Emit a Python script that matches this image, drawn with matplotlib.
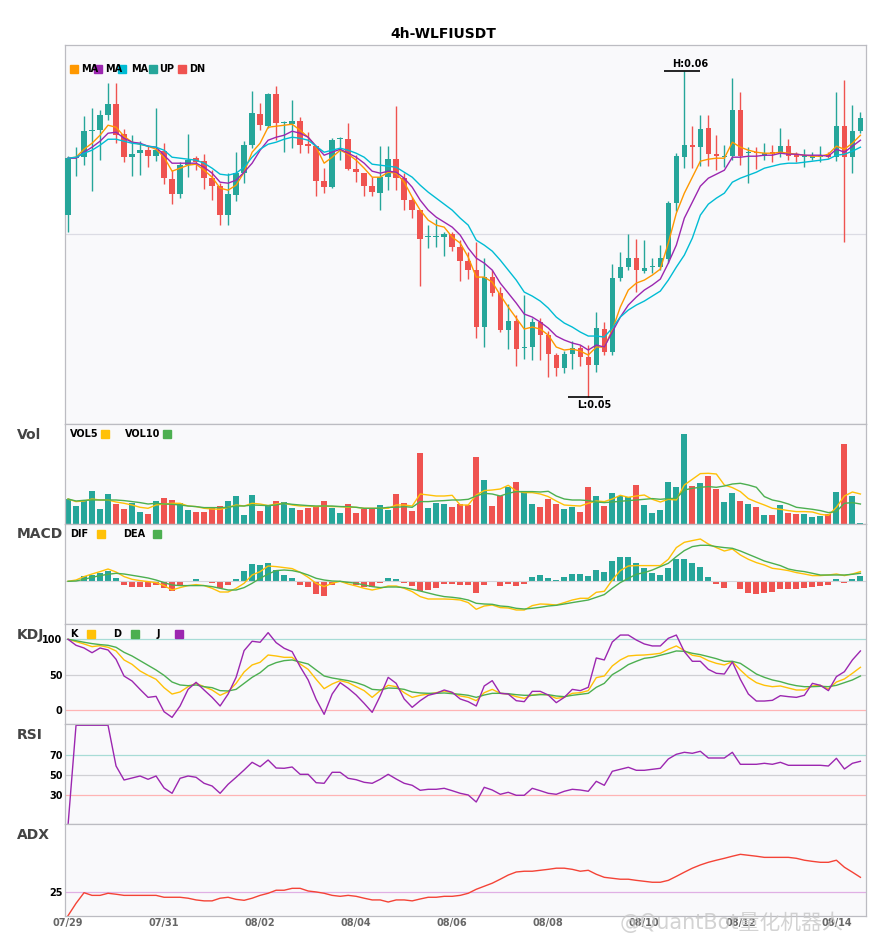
import numpy as np
import matplotlib.pyplot as plt
from matplotlib.patches import Rectangle

W, H = 885, 950

date_labels = ['07/29', '07/31', '08/02', '08/04', '08/06', '08/08', '08/10', '08/12', '08/14']

# OHLC, in 1e-5 USDT
opens = [5546, 5717, 5720, 5798, 5801, 5846, 5879, 5789, 5720, 5732,
         5741, 5723, 5738, 5654, 5609, 5696, 5717, 5708, 5657, 5633,
         5546, 5606, 5672, 5756, 5849, 5813, 5909, 5822, 5819, 5828,
         5756, 5753, 5648, 5630, 5774, 5774, 5684, 5672, 5633, 5612,
         5660, 5714, 5657, 5591, 5561, 5480, 5480, 5480, 5489, 5450,
         5408, 5381, 5210, 5360, 5312, 5201, 5228, 5147, 5150, 5225,
         5186, 5126, 5087, 5129, 5147, 5120, 5096, 5204, 5135, 5357,
         5390, 5417, 5378, 5389, 5390, 5414, 5582, 5720, 5756, 5750,
         5807, 5729, 5720, 5723, 5861, 5732, 5733, 5723, 5733, 5729,
         5753, 5729, 5722, 5719, 5722, 5729, 5720, 5813, 5720, 5798]
highs = [5723, 5750, 5843, 5867, 5861, 5942, 5942, 5804, 5786, 5768,
         5753, 5867, 5762, 5681, 5705, 5789, 5723, 5729, 5681, 5642,
         5672, 5735, 5768, 5918, 5882, 5912, 5933, 5828, 5891, 5840,
         5795, 5753, 5687, 5777, 5780, 5822, 5726, 5672, 5660, 5753,
         5753, 5873, 5672, 5600, 5561, 5516, 5534, 5495, 5495, 5471,
         5435, 5465, 5417, 5381, 5330, 5279, 5246, 5306, 5237, 5237,
         5198, 5132, 5138, 5168, 5156, 5156, 5255, 5225, 5399, 5435,
         5489, 5474, 5471, 5417, 5456, 5588, 5732, 5978, 5813, 5846,
         5846, 5786, 5756, 5957, 5915, 5750, 5750, 5762, 5756, 5807,
         5774, 5735, 5744, 5735, 5753, 5735, 5915, 5951, 5876, 5855]
lows = [5495, 5663, 5696, 5618, 5711, 5831, 5762, 5705, 5663, 5666,
        5690, 5708, 5639, 5579, 5597, 5660, 5681, 5624, 5591, 5516,
        5516, 5588, 5642, 5747, 5801, 5807, 5771, 5735, 5747, 5732,
        5732, 5603, 5612, 5627, 5711, 5681, 5645, 5603, 5603, 5561,
        5621, 5621, 5561, 5537, 5333, 5447, 5450, 5423, 5438, 5348,
        5354, 5177, 5150, 5303, 5195, 5144, 5093, 5114, 5111, 5111,
        5060, 5063, 5072, 5084, 5093, 5000, 5075, 5126, 5126, 5348,
        5381, 5315, 5372, 5372, 5381, 5402, 5558, 5687, 5687, 5693,
        5693, 5681, 5690, 5711, 5696, 5642, 5684, 5711, 5705, 5720,
        5711, 5705, 5690, 5711, 5705, 5717, 5708, 5465, 5672, 5792]
closes = [5717, 5718, 5798, 5801, 5846, 5879, 5786, 5720, 5729, 5741,
          5723, 5741, 5657, 5609, 5696, 5711, 5705, 5657, 5633, 5546,
          5609, 5672, 5756, 5852, 5816, 5909, 5822, 5823, 5828, 5756,
          5755, 5648, 5630, 5771, 5777, 5684, 5675, 5633, 5615, 5660,
          5714, 5657, 5591, 5561, 5474, 5481, 5481, 5489, 5450, 5408,
          5381, 5210, 5360, 5312, 5201, 5228, 5144, 5150, 5225, 5186,
          5129, 5087, 5129, 5147, 5120, 5096, 5207, 5135, 5357, 5390,
          5417, 5381, 5387, 5390, 5417, 5582, 5723, 5756, 5750, 5804,
          5729, 5723, 5723, 5861, 5723, 5733, 5732, 5732, 5731, 5753,
          5723, 5720, 5723, 5720, 5723, 5720, 5813, 5720, 5798, 5837]

ma5 = [5717, 5720, 5744, 5762, 5786, 5816, 5810, 5783, 5765, 5759,
       5753, 5744, 5720, 5678, 5687, 5696, 5699, 5681, 5660, 5627,
       5621, 5636, 5675, 5735, 5762, 5810, 5813, 5816, 5819, 5801,
       5780, 5750, 5702, 5720, 5741, 5729, 5711, 5687, 5660, 5660,
       5675, 5672, 5645, 5600, 5561, 5531, 5516, 5510, 5480, 5462,
       5420, 5360, 5360, 5345, 5306, 5270, 5237, 5204, 5210, 5204,
       5186, 5150, 5141, 5144, 5138, 5126, 5150, 5150, 5201, 5270,
       5321, 5342, 5351, 5366, 5384, 5462, 5552, 5612, 5660, 5708,
       5714, 5717, 5717, 5765, 5750, 5741, 5735, 5732, 5732, 5735,
       5732, 5729, 5726, 5723, 5723, 5729, 5753, 5744, 5762, 5786]
ma10 = [5717, 5717, 5735, 5750, 5768, 5792, 5795, 5777, 5765, 5762,
        5753, 5750, 5726, 5702, 5702, 5702, 5702, 5690, 5672, 5645,
        5642, 5651, 5675, 5702, 5741, 5771, 5780, 5786, 5798, 5792,
        5780, 5753, 5726, 5735, 5744, 5732, 5720, 5702, 5678, 5672,
        5678, 5675, 5657, 5630, 5591, 5561, 5540, 5525, 5510, 5486,
        5447, 5417, 5402, 5381, 5342, 5312, 5282, 5249, 5240, 5225,
        5207, 5183, 5171, 5162, 5156, 5141, 5156, 5150, 5195, 5240,
        5276, 5300, 5321, 5336, 5354, 5402, 5456, 5537, 5585, 5633,
        5657, 5669, 5681, 5720, 5720, 5723, 5723, 5726, 5726, 5732,
        5729, 5729, 5726, 5726, 5726, 5723, 5744, 5735, 5753, 5771]
ma20 = [5717, 5720, 5732, 5741, 5756, 5774, 5774, 5768, 5762, 5759,
        5753, 5750, 5741, 5720, 5717, 5714, 5711, 5702, 5687, 5669,
        5666, 5672, 5690, 5720, 5744, 5759, 5765, 5774, 5780, 5777,
        5771, 5753, 5735, 5741, 5747, 5741, 5732, 5720, 5699, 5696,
        5693, 5690, 5675, 5660, 5636, 5615, 5597, 5579, 5561, 5537,
        5516, 5471, 5456, 5438, 5411, 5381, 5351, 5315, 5303, 5288,
        5267, 5240, 5222, 5210, 5195, 5183, 5183, 5180, 5207, 5240,
        5261, 5276, 5288, 5303, 5318, 5351, 5390, 5426, 5477, 5546,
        5579, 5597, 5612, 5645, 5657, 5666, 5675, 5687, 5693, 5699,
        5702, 5702, 5705, 5708, 5711, 5714, 5726, 5729, 5738, 5750]

volume = [25.3, 18.3, 24.3, 33.3, 15.3, 30.3, 20.3, 15.3, 21.3, 12.3,
          10.3, 23.3, 26.3, 24.3, 21.3, 14.3, 12.3, 12.3, 16.3, 18.3,
          23.3, 28.3, 9.3, 29.3, 13.3, 19.3, 23.3, 22.3, 16.3, 14.3,
          16.3, 18.3, 23.3, 16.3, 11.3, 20.3, 11.3, 15.3, 15.3, 19.3,
          14.3, 30.3, 21.3, 13.3, 71.3, 16.3, 21.3, 20.3, 17.3, 20.3,
          19.3, 67.3, 44.3, 18.3, 28.3, 37.3, 42.3, 32.3, 20.3, 17.3,
          25.3, 20.3, 15.3, 17.3, 12.3, 37.3, 28.3, 18.3, 31.3, 28.3,
          27.3, 39.3, 19.3, 11.3, 14.3, 42.3, 37.3, 90.3, 38.3, 41.3,
          48.3, 35.3, 22.3, 31.3, 23.3, 20.3, 17.3, 9.3, 9.3, 19.3,
          11.3, 10.3, 10.3, 7.3, 8.3, 10.3, 32.3, 80.3, 28.3, 1.3]
vol5 = [25.3, 22.7, 23.3, 25.3, 24.3, 24.3, 22.3, 21, 19.3, 17,
        16, 19.3, 20.3, 21, 21, 18.3, 17.7, 16, 15.3, 15,
        17, 19.3, 18.3, 21, 20.3, 18.7, 20.3, 21, 19.3, 18.3,
        18.3, 17.7, 18.3, 17.7, 17.7, 17, 17, 16, 16, 16,
        16, 19.3, 19.3, 18.3, 30.3, 29.3, 28.3, 28.3, 29, 19.3,
        19.3, 29.3, 33.7, 34.3, 35.3, 39, 33.3, 31.7, 31.7, 30.3,
        27.7, 23.3, 19.3, 18.7, 18.3, 21, 23.3, 22.7, 25.3, 29,
        27, 28.3, 29.3, 25, 22.3, 25, 24.3, 39.3, 45, 50.7,
        51, 50.3, 39.3, 36.7, 32.7, 25.7, 22.3, 19.3, 16, 15,
        13.7, 12.7, 12.7, 12.3, 10, 9, 17, 28.3, 32.3, 30.3]
vol10 = [25.3, 23.3, 24, 24.3, 24.3, 24.3, 24.3, 23.7, 22.7, 21.7,
         20.3, 21, 20.3, 20, 19.3, 18.3, 17.7, 16.7, 16.7, 16.7,
         17, 18.3, 18.3, 19.3, 19, 18.7, 19.3, 21, 20, 19.3,
         18.7, 18.3, 18.3, 18.3, 17.7, 17.7, 17, 16, 16, 16,
         17, 17, 17.7, 17, 22.7, 22.7, 23.3, 23.7, 24.3, 24.3,
         25, 28.3, 31, 30.3, 28.3, 31, 32.7, 32.7, 32.7, 32.3,
         33, 28.3, 25.3, 24.3, 24.3, 23.7, 22.3, 21.7, 22.3, 23,
         23.7, 24.3, 25, 25.7, 25, 25.7, 26, 34.3, 36, 37,
         37.7, 37, 38.3, 40.3, 41, 39.3, 37, 27.7, 24.3, 22.7,
         20.3, 17, 16, 15, 13.7, 11.7, 12.7, 21, 21.7, 20.3]

# MACD, in 1e-5 units
dif = [0, 1.3, 4.7, 7.3, 9.7, 12.3, 9.3, 4.7, 2, 0.7,
       -0.3, -1.3, -4.3, -8.7, -6.3, -4.3, -3.3, -4.3, -7, -10.7,
       -10.7, -7, -2, 6.3, 9.7, 15.3, 14.7, 13.7, 12.7, 9,
       4, -2, -5.3, -2, 0, -2.7, -4.7, -7, -8.7, -7,
       -4.7, -4.7, -7, -10.3, -15.3, -17.7, -17.7, -17.7, -18, -18.7,
       -21.3, -28, -24.7, -23.7, -26.3, -26.7, -28.7, -28.7, -24.3, -22.7,
       -23, -23.7, -21.3, -18.7, -17, -17, -11, -10, 1.3, 10.7,
       15.3, 15.7, 15.7, 15.7, 15.7, 22, 33.7, 39, 40.7, 42.3,
       37.3, 33.7, 30.3, 32.3, 26.3, 22, 18.7, 16.3, 13, 12,
       10.7, 8.7, 7.3, 5.7, 5.7, 6.3, 7.3, 5.7, 7.3, 9.7]
dea = [0, 0.3, 2, 4, 5.7, 7, 8, 7.3, 6, 4.7,
       3.3, 1.3, -1.3, -3.7, -4.3, -4.3, -4.3, -4.3, -5.3, -7,
       -8.7, -8.7, -6.3, -2, 3, 7.3, 10.7, 11.3, 10.7, 9,
       6.3, 3, 1.3, 0.3, 0, -1, -2, -3.7, -5.3, -6.3,
       -5.7, -5.7, -6.3, -8, -9.7, -11.7, -13.7, -15.3, -16, -17,
       -18.7, -22, -22.7, -23, -24.7, -25.3, -27, -27.7, -27, -26,
       -24.7, -24, -22.7, -21.3, -20, -18.7, -16, -13.3, -7, -1.3,
       3, 7, 8.7, 11.3, 14.7, 18, 24.7, 30.7, 34.7, 36,
       36, 34.7, 33.7, 33, 30.3, 27, 23.7, 20.3, 18, 15.7,
       12.3, 10.7, 9.7, 8, 6.3, 6.3, 6.3, 6.3, 7, 8]
hist = [0, 0, 5.3, 6.3, 8.3, 10.3, 3.3, -3.3, -5.3, -5.3,
        -5.3, -3.3, -6.3, -9.3, -3.3, 0, 2.3, 0, -1.3, -6.3,
        -3.3, 2.3, 10.3, 17.3, 16.3, 18.3, 11.3, 6.3, 3.3, -3.3,
        -5.3, -12.3, -14.3, -4, -0.7, -2, -3.3, -5.3, -5.3, -2,
        3.3, 2.3, -1.3, -4.3, -9.3, -8.3, -6.3, -2.3, -2.3, -3.3,
        -3.3, -11.3, -3.3, -0.7, -4.3, -2.3, -4.3, -2.3, 4.3, 6.3,
        3.3, 1.3, 4.3, 7.3, 7.3, 5.3, 11.3, 9.3, 20.3, 24.3,
        24.3, 18.3, 13.3, 8.3, 6.3, 13.3, 22.3, 22.3, 18.3, 14.3,
        4.3, -2.3, -6.3, -0.7, -7.3, -11.3, -12.3, -11.3, -10.3, -7.3,
        -7.3, -7.3, -6.3, -5.3, -4.3, -3.3, 2.3, -1.3, 2.3, 5.3]

k_line = [100, 96.7, 93.4, 89.6, 91, 88.7, 83.5, 70.8, 64.6, 55.2,
          49, 43.4, 31.6, 22.6, 25.5, 33, 37.7, 33, 28.3, 20.8,
          25.9, 37.7, 53.8, 63.7, 67.5, 77.8, 76.4, 74.5, 74.5, 65.1,
          57.5, 43.4, 30.2, 36.8, 41.5, 38.7, 33, 27.4, 17.9, 27.4,
          34.9, 33, 24.5, 17.9, 20.8, 22.6, 24.5, 26.9, 24.5, 19.8,
          17.9, 13.2, 24.5, 29.2, 23.6, 22.6, 18.9, 16.5, 21.2, 22.6,
          21.2, 16.5, 17.9, 23.6, 24.5, 27.4, 45.8, 48.1, 62.3, 70.8,
          76.4, 77.4, 77.8, 78.8, 80.2, 85.8, 90.6, 84, 77.4, 75.5,
          69.8, 66, 63.7, 68.4, 56.6, 46.2, 38.7, 34.9, 33, 34,
          31.1, 28.3, 28.3, 34, 34.9, 29.7, 39.6, 43.9, 51.9, 60.4]
d_line = [100, 98, 95.8, 93.9, 92.5, 91.5, 88.7, 81.6, 76.4, 69.8,
          63.2, 56.6, 49, 39.6, 35.4, 34.4, 35.4, 33, 31.6, 27.4,
          26.9, 29.2, 37.7, 46.2, 52.8, 62.3, 67, 69.8, 70.8, 67.9,
          65.1, 56.6, 48.1, 45.3, 43.4, 41.5, 38.7, 34.9, 29.2, 28.3,
          31.1, 30.7, 29.2, 25.5, 24.1, 23.6, 23.6, 24.1, 23.1, 22.2,
          20.8, 17.9, 21.2, 23.6, 23.6, 23.1, 21.7, 20.8, 20.8, 21.7,
          21.7, 19.8, 18.9, 20.8, 22.2, 23.6, 32.1, 37.7, 50, 56.6,
          64.2, 68.9, 73.1, 74.5, 77.4, 80.2, 83.5, 83, 80.2, 78.3,
          75.5, 72.6, 68.9, 68.9, 66, 58.5, 50.9, 46.2, 42.5, 40.1,
          36.8, 34.4, 33, 33, 33.5, 33, 34.9, 38.7, 42.5, 48.1]
j_line = [100, 91.5, 87.7, 81, 87.7, 84.9, 71.7, 48, 41, 29.2,
          17.9, 19.3, -2.4, -10.4, 5.7, 29.2, 39.2, 28.3, 17.9, 5.7,
          22.6, 46.2, 84, 97.2, 95.8, 109.4, 95.3, 87.3, 82.5, 61.3,
          42.5, 15.1, -6.1, 22.6, 38.7, 30.7, 21.2, 9.4, -3.3, 19.8,
          46.2, 37.7, 15.6, 3.8, 13.2, 20.8, 23.6, 28.3, 25, 15.6,
          11.8, 5.7, 34, 41.5, 23.6, 22.6, 13.2, 11.8, 26.4, 26.4,
          21.2, 10.4, 17.9, 29.2, 27.4, 32.1, 73.6, 70.8, 96.2, 106,
          106, 99, 93.4, 90.6, 90.6, 101.4, 106, 82.5, 68.9, 68.9,
          57.5, 51.9, 50.9, 67.9, 43.4, 22.6, 12.7, 12.7, 13.7, 20.3,
          18.9, 17.9, 20.8, 37.7, 34.9, 27.4, 47.2, 54.2, 70.8, 83.5]

rsi = [0, 100, 100, 100, 100, 100, 59.3, 45.3, 47.3, 49.3,
       46, 49.3, 37.3, 32, 47, 49.3, 48, 42, 39.3, 32,
       41, 48, 55.3, 63, 58.6, 65.3, 57.3, 57, 58.3, 51,
       51, 42.6, 42, 53, 53, 47, 45.6, 43, 42, 46,
       51, 46.3, 42, 40, 35, 36, 36, 37, 34.6, 32,
       30.3, 23.3, 38, 35.3, 31, 33, 30, 30, 37, 34.6,
       32, 31, 34, 36, 35.3, 34, 44, 40, 54, 56,
       58, 55, 55, 56, 57, 66.3, 71, 73, 72, 74,
       67.3, 67.3, 67.3, 73, 61, 61, 61, 62, 61, 63,
       60, 60, 60, 60, 60, 59.3, 67, 56.3, 62, 64]

adx = [12.5, 19, 24.6, 23.2, 23.2, 24.3, 23.8, 23.2, 23.2, 23.2,
       23.2, 23.2, 22.2, 22.2, 22.2, 21.7, 20.8, 20.3, 20.3, 21.7,
       22.2, 21.1, 20.6, 21.7, 23.2, 24.3, 25.9, 25.9, 26.9, 26.9,
       25.5, 25, 24.3, 23.2, 22.7, 23.2, 22.7, 21.7, 20.8, 20.8,
       19.7, 20.8, 20.8, 20.3, 21.3, 22.2, 22.2, 22.7, 22.7, 23.2,
       24.3, 26.4, 28, 29.6, 31.7, 33.9, 35.5, 35.9, 35.9, 36.4,
       36.9, 37.5, 37.5, 36.9, 35.9, 36.4, 34.3, 32.7, 32.2, 31.7,
       31.7, 31.1, 30.6, 30.1, 30.1, 31.1, 33.2, 35.4, 37.5, 39.2,
       40.6, 41.7, 42.7, 43.8, 44.8, 44.3, 43.8, 43.2, 43.2, 43.2,
       43.2, 42.7, 41.7, 41.1, 40.6, 40.6, 41.7, 38, 35.4, 32.7]

UP = '#26a69a'
DN = '#ef5350'
BG = '#f9f9fb'

o = np.array(opens) / 1e5
h = np.array(highs) / 1e5
l = np.array(lows) / 1e5
c = np.array(closes) / 1e5
x = np.arange(len(o))
up = c >= o
colors = np.where(up, UP, DN)

fig = plt.figure(figsize=(W / 100, H / 100), dpi=100)
fig.patch.set_facecolor('white')


def make_ax(top_px, bottom_px):
    ax = fig.add_axes([65.3 / W, 1 - bottom_px / H, 800.4 / W, (bottom_px - top_px) / H])
    ax.set_facecolor(BG)
    ax.set_xlim(-0.34, 99.66)
    for s in ax.spines.values():
        s.set_color('#bcbcc2')
        s.set_linewidth(0.9)
    ax.tick_params(length=0, labelsize=7, pad=2)
    ax.set_xticks([])
    ax.set_yticks([])
    for t in ax.get_yticklabels():
        t.set_fontweight('bold')
    return ax


def yticks(ax, vals):
    ax.set_yticks(vals)
    ax.set_yticklabels([str(v) for v in vals], fontsize=7, fontweight='bold')


def fig_text(xp, yp, s, **kw):
    fig.text(xp / W, 1 - yp / H, s, **kw)


def square(xp, yp, color):
    fig.add_artist(Rectangle((xp / W, 1 - (yp + 4) / H), 8 / W, 8 / H,
                             color=color, transform=fig.transFigure))


# main candles
ax = make_ax(45.3, 424.3)
ax.set_ylim(0.04918, 0.06056)
ax.axhline(0.0549, color='#dcdce4', lw=0.9, zorder=1)
ax.vlines(x, l, h, colors=colors, lw=1.0, zorder=2)
body = np.maximum(np.abs(c - o), 0.00004)
ax.bar(x, body, bottom=np.minimum(o, c), width=0.68, color=colors, zorder=3)
ax.plot(x, np.array(ma5) / 1e5, color='#ff9800', lw=1.0, zorder=4)
ax.plot(x, np.array(ma10) / 1e5, color='#9c27b0', lw=1.0, zorder=4)
ax.plot(x, np.array(ma20) / 1e5, color='#00bcd4', lw=1.0, zorder=4)

hi = int(np.argmax(h))
lo = int(np.argmin(l))
ax.hlines(h[hi], hi - 2.5, hi + 1.9, color='black', lw=1.2, zorder=5)
ax.text(hi - 1.5, h[hi] + 0.00007, f'H:{h[hi]:.2f}', ha='left', va='bottom',
        fontsize=7, fontweight='bold')
ax.hlines(l[lo], lo - 2.5, lo + 1.9, color='black', lw=1.2, zorder=5)
ax.text(lo - 1.4, l[lo] - 0.0001, f'L:{l[lo]:.2f}', ha='left', va='top',
        fontsize=7, fontweight='bold')

for sq, tx, col, lab in [(70, 81, '#ff9800', 'MA'), (94, 105, '#9c27b0', 'MA'),
                         (118, 131, '#00bcd4', 'MA'), (149, 159, UP, 'UP'),
                         (178, 189, DN, 'DN')]:
    fig_text(tx, 69, lab, fontsize=7, fontweight='bold', va='center')
    square(sq, 69, col)

# volume
ax_v = make_ax(424.3, 524.3)
ax_v.set_ylim(0, 100)
ax_v.bar(x, volume, width=0.75, color=colors)
ax_v.plot(x, vol5, color='#ffc107', lw=1.0)
ax_v.plot(x, vol10, color='#4caf50', lw=1.0)
fig_text(70, 434, 'VOL5', fontsize=7, fontweight='bold', va='center')
square(101, 434, '#ffc107')
fig_text(125, 434, 'VOL10', fontsize=7, fontweight='bold', va='center')
square(163, 434, '#4caf50')

# MACD
ax_m = make_ax(524.3, 624.3)
ax_m.set_ylim(-43, 57)
ax_m.axhline(0, color='#d4d4d8', lw=0.8)
hist_arr = np.array(hist)
ax_m.bar(x, hist_arr, width=0.75, color=np.where(hist_arr >= 0, UP, DN))
ax_m.plot(x, dif, color='#ffc107', lw=1.0)
ax_m.plot(x, dea, color='#4caf50', lw=1.0)
fig_text(70, 534, 'DIF', fontsize=7, fontweight='bold', va='center')
square(97, 534, '#ffc107')
fig_text(123, 534, 'DEA', fontsize=7, fontweight='bold', va='center')
square(153, 534, '#4caf50')

# KDJ
ax_k = make_ax(624.3, 724.3)
ax_k.set_ylim(-20.2, 121.2)
ax_k.axhline(100, color='#a8dcd6', lw=0.9)
ax_k.axhline(50, color='#d0d0d4', lw=0.9)
ax_k.axhline(0, color='#ffb4b4', lw=0.9)
ax_k.plot(x, k_line, color='#ffc107', lw=1.0)
ax_k.plot(x, d_line, color='#4caf50', lw=1.0)
ax_k.plot(x, j_line, color='#9c27b0', lw=1.0)
yticks(ax_k, [0, 50, 100])
fig_text(70, 634, 'K', fontsize=7, fontweight='bold', va='center')
square(87, 634, '#ffc107')
fig_text(113, 634, 'D', fontsize=7, fontweight='bold', va='center')
square(131, 634, '#4caf50')
fig_text(157, 634, 'J', fontsize=7, fontweight='bold', va='center')
square(175, 634, '#9c27b0')

# RSI
ax_r = make_ax(724.3, 824.3)
ax_r.set_ylim(1, 101)
ax_r.axhline(70, color='#a8dcd6', lw=0.9)
ax_r.axhline(50, color='#d0d0d4', lw=0.9)
ax_r.axhline(30, color='#ffb4b4', lw=0.9)
ax_r.plot(x, rsi, color='#9c27b0', lw=1.0)
yticks(ax_r, [30, 50, 70])

# ADX
ax_a = make_ax(824.3, 915.7)
ax_a.set_ylim(12.5, 60.6)
ax_a.axhline(25, color='#e0b0e4', lw=0.9)
ax_a.plot(x, adx, color='#f44336', lw=1.0)
yticks(ax_a, [25])
ax_a.set_xticks(np.arange(0, 100, 12))
ax_a.set_xticklabels(date_labels, fontsize=7, fontweight='bold', color='#666666')
ax_a.tick_params(axis='x', pad=1.5)

# titles and panel names
fig_text(443, 34, '4h-WLFIUSDT', fontsize=10, fontweight='bold', ha='center', va='center')
for name, yp in [('Vol', 435), ('MACD', 534), ('KDJ', 635), ('RSI', 735), ('ADX', 835)]:
    fig_text(17, yp, name, fontsize=10, fontweight='bold', color='#444444', va='center')

fig_text(620, 922, '@QuantBot量化机器人', fontsize=15, color='#c8c8c8', alpha=0.8,
         va='center', family=['DejaVu Sans', 'Noto Sans CJK SC'])

fig.savefig('out.png', dpi=100, facecolor='white')
